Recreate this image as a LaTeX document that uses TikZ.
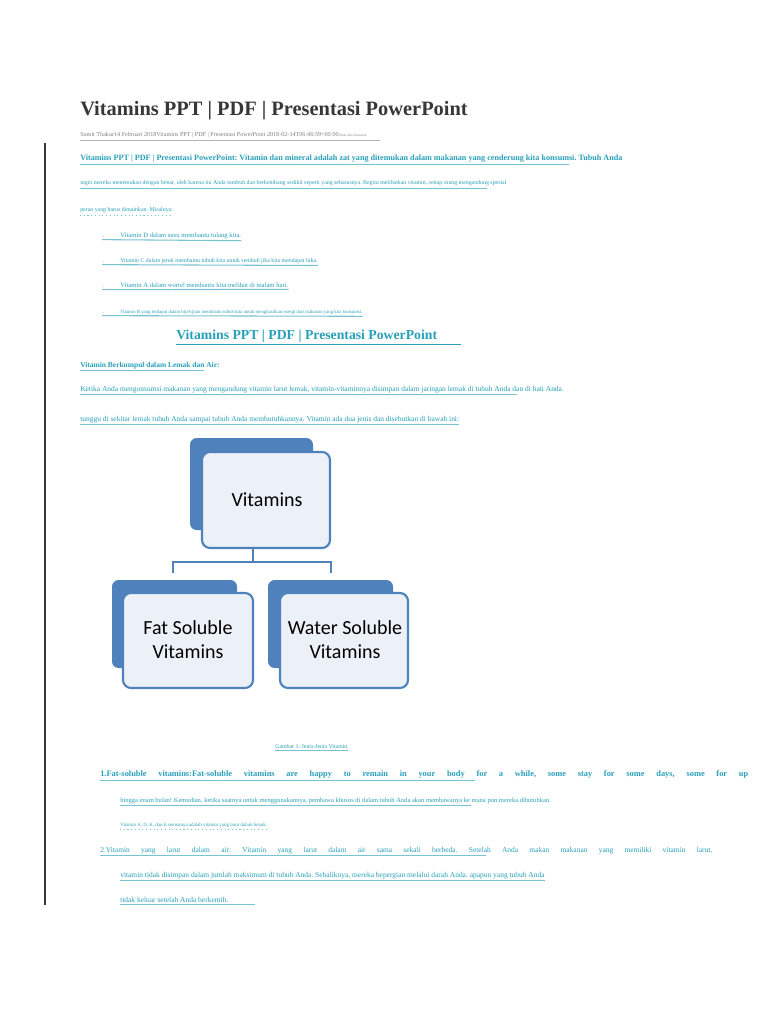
\documentclass[tikz,border=0pt]{standalone}
\usepackage{fontspec}
\setmainfont{Liberation Serif}
\newfontfamily\boxfont{Carlito}
\frenchspacing
\definecolor{teal1}{RGB}{40,160,185}
\definecolor{ul}{RGB}{120,195,210}
\definecolor{boxblue}{RGB}{79,129,189}
\definecolor{boxfill}{RGB}{236,241,248}
\definecolor{titlec}{RGB}{55,55,55}
\begin{document}
\begin{tikzpicture}[x=0.75pt,y=-0.75pt,
  txt/.style={anchor=base west,inner sep=0pt,text=teal1},
  back/.style={fill=boxblue,rounded corners=5pt},
  front/.style={fill=boxfill,draw=boxblue,line width=1.6pt,rounded corners=6pt},
  conn/.style={draw=boxblue,line width=1.8pt},
  uline/.style={draw=ul,line width=0.8pt}]
\useasboundingbox (0,0) rectangle (768,1024);
\fill[white] (0,0) rectangle (768,1024);
\draw[titlec,line width=0.8pt] (45,143) -- (45,905);
% title
\node[txt,text=titlec,font=\fontsize{15.3}{18}\selectfont\bfseries] (title) at (80,115) {Vitamins PPT | PDF | Presentasi PowerPoint};
\node[txt,text=gray,font=\fontsize{4.6}{5}\selectfont] (by) at (80,137) {Sumit Thakur14 Februari 2018Vitamins PPT | PDF | Presentasi PowerPoint 2018-02-14T06:46:59+00:00{\fontsize{2.5}{3}\selectfont Tidak Ada Komentar}};
\draw[uline,draw=gray!60] ([yshift=-1.5]by.south west) -- ([yshift=-1.5,xshift=10]by.south east);
% intro
\node[txt,font=\fontsize{6.1}{7}\selectfont\bfseries] (l1) at (80,160) {Vitamins PPT | PDF | Presentasi PowerPoint: Vitamin dan mineral adalah zat yang ditemukan dalam makanan yang cenderung kita konsumsi. Tubuh Anda};
\draw[uline] ([yshift=-1.5]l1.south west) -- ([yshift=-1.5,xshift=-40]l1.south east);
\node[txt,font=\fontsize{4.4}{5}\selectfont] (l2) at (80,184) {ingin mereka menemukan dengan benar, oleh karena itu Anda tumbuh dan berkembang sedikit seperti yang seharusnya. Begitu melibatkan vitamin, setiap orang mengandung spesial};
\draw[uline] ([yshift=-2.5]l2.south west) -- ([yshift=-2.5,xshift=-15]l2.south east);
\node[txt,font=\fontsize{4.4}{5}\selectfont] (l3) at (80,211) {peran yang harus dimainkan. Misalnya:};
\draw[uline,dotted] ([yshift=-2.5]l3.south west) -- ([yshift=-2.5]l3.south east);
% bullets
\foreach \y/\t/\s [count=\i] in {237/Vitamin D dalam susu membantu tulang kita./5,
  262/Vitamin C dalam jeruk membantu tubuh kita untuk sembuh jika kita mendapat luka./4.4,
  287/Vitamin A dalam wortel membantu kita melihat di malam hari./5,
  313/Vitamin B yang terdapat dalam biji-bijian membantu tubuh kita untuk menghasilkan energi dari makanan yang kita konsumsi./3.6}{
  \node[txt,font=\fontsize{5}{6}\selectfont] (d\i) at (102,\y) {.};
  \node[txt,font=\fontsize{\s}{6}\selectfont] (b\i) at (120,\y) {\t};
  \draw[uline] ([yshift=-1.5]d\i.south west) -- ([yshift=-1.5]b\i.south east);
}
% heading 2
\node[txt,font=\fontsize{10.3}{12}\selectfont\bfseries] (h2) at (176,339) {Vitamins PPT | PDF | Presentasi PowerPoint};
\draw[uline,draw=teal1,line width=1pt] ([yshift=-1.5]h2.south west) -- ([yshift=-1.5,xshift=18]h2.south east);
\node[txt,font=\fontsize{5.6}{6}\selectfont\bfseries] (p1) at (80,367) {Vitamin Berkumpul dalam Lemak dan Air:};
\draw[uline] ([yshift=-1.5]p1.south west) -- ([yshift=-1.5,xshift=-12]p1.south east);
\node[txt,font=\fontsize{5.6}{6}\selectfont] (p2) at (80,391) {Ketika Anda mengonsumsi makanan yang mengandung vitamin larut lemak, vitamin-vitaminnya disimpan dalam jaringan lemak di tubuh Anda dan di hati Anda.};
\draw[uline] ([yshift=-1.5]p2.south west) -- ([yshift=-1.5,xshift=-35]p2.south east);
\node[txt,font=\fontsize{5.6}{6}\selectfont] (p3) at (80,421) {tunggu di sekitar lemak tubuh Anda sampai tubuh Anda membutuhkannya. Vitamin ada dua jenis dan disebutkan di bawah ini:};
\draw[uline] ([yshift=-1.5]p3.south west) -- ([yshift=-1.5]p3.south east);
% diagram
\fill[back] (190,438) rectangle (313,530);
\draw[front] (202,452) rectangle (330,548);
\node[font=\boxfont\fontsize{15}{18}\selectfont,inner sep=0pt] (vit) at (267,500) {Vitamins};
\coordinate (vb) at (253,548);
\coordinate (vl) at (173,573);
\coordinate (vr) at (331,573);
\fill[back] (112,580) rectangle (237,668);
\draw[front] (123,593) rectangle (253,688);
\node[font=\boxfont\fontsize{15}{18}\selectfont,align=center,inner sep=0pt] (fat) at (188,640) {Fat Soluble\\Vitamins};
\fill[back] (268,580) rectangle (393,668);
\draw[front] (280,593) rectangle (408,688);
\node[font=\boxfont\fontsize{15}{18}\selectfont,align=center,inner sep=0pt] (wat) at (345,640) {Water Soluble\\Vitamins};
\draw[conn] (vb) -- (253,562) -| (vl);
\draw[conn] (253,562) -| (vr);
% caption
\node[txt,font=\fontsize{4.4}{5}\selectfont] (cap) at (275,748) {Gambar 1: Jenis-Jenis Vitamin};
\draw[uline] ([yshift=-1.5]cap.south west) -- ([yshift=-1.5]cap.south east);
% list
\node[txt,font=\fontsize{6.3}{7}\selectfont\bfseries] (n1) at (100,776) {\makebox[486pt][s]{1.Fat-soluble vitamins:Fat-soluble vitamins are happy to remain in your body for a while, some stay for some days, some for up}};
\draw[uline] ([yshift=-1.5]n1.south west) -- ([yshift=-1.5,xshift=-205]n1.south east);
\node[txt,font=\fontsize{4.9}{6}\selectfont] (n1a) at (120,802) {hingga enam bulan! Kemudian, ketika saatnya untuk menggunakannya, pembawa khusus di dalam tubuh Anda akan membawanya ke mana pun mereka dibutuhkan.};
\draw[uline] ([yshift=-1.5]n1a.south west) -- ([yshift=-1.5,xshift=-60]n1a.south east);
\node[txt,font=\fontsize{3.7}{5}\selectfont] (n1b) at (120,826) {Vitamin A, D, K, dan E semuanya adalah vitamin yang larut dalam lemak.};
\draw[uline,dotted] ([yshift=-1.5]n1b.south west) -- ([yshift=-1.5]n1b.south east);
\node[txt,font=\fontsize{5.6}{7}\selectfont] (n2) at (100,852) {\makebox[459pt][s]{2.Vitamin yang larut dalam air: Vitamin yang larut dalam air sama sekali berbeda. Setelah Anda makan makanan yang memiliki vitamin larut,}};
\draw[uline] ([yshift=-1.5]n2.south west) -- ([yshift=-1.5,xshift=-170]n2.south east);
\node[txt,font=\fontsize{5.6}{6}\selectfont] (n2a) at (120,877) {vitamin tidak disimpan dalam jumlah maksimum di tubuh Anda. Sebaliknya, mereka bepergian melalui darah Anda. apapun yang tubuh Anda};
\draw[uline] ([yshift=-1.5]n2a.south west) -- ([yshift=-1.5]n2a.south east);
\node[txt,font=\fontsize{5.6}{6}\selectfont] (n2b) at (120,902) {tidak keluar setelah Anda berkemih.};
\draw[uline] ([yshift=-1.5]n2b.south west) -- ([yshift=-1.5,xshift=20]n2b.south east);
\end{tikzpicture}
\end{document}
